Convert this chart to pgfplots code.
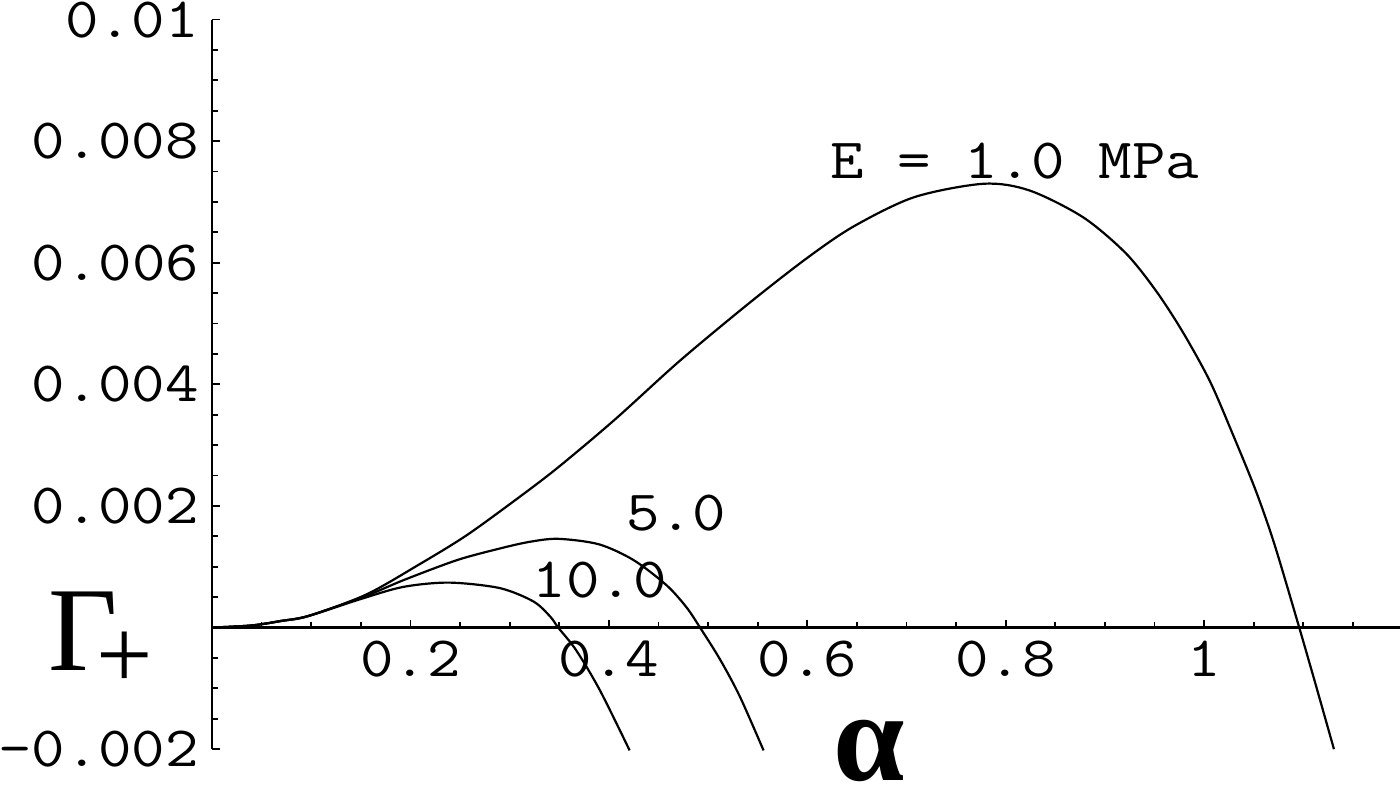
\documentclass[border=0pt]{standalone}
\usepackage{pgfplots}
\pgfplotsset{compat=1.18}
\usepackage{fontspec}
\setmainfont{Liberation Serif}
\newfontfamily\cour[FakeStretch=1.14]{Latin Modern Mono}
\newcommand\tfont{\cour\fontsize{28.5}{30}\selectfont}

\pgfplotstableread{
a g
0 0
0.04 0.000035
0.07 0.00011
0.097 0.00019
0.155 0.00054
0.209 0.00104
0.255 0.00150
0.301 0.00204
0.347 0.00261
0.406 0.00342
0.471 0.00438
0.541 0.00533
0.600 0.00608
0.647 0.00660
0.708 0.00708
0.778 0.00730
0.824 0.00719
0.878 0.00675
0.921 0.00616
0.952 0.00553
0.979 0.00485
1.006 0.00405
1.029 0.00318
1.052 0.00226
1.071 0.00137
1.096 0
1.114 -0.00102
1.131 -0.00200
}\Eone

\pgfplotstableread{
a g
0 0
0.04 0.000035
0.07 0.00011
0.097 0.00019
0.155 0.00052
0.193 0.00078
0.247 0.00111
0.290 0.00130
0.320 0.00141
0.349 0.00146
0.390 0.00137
0.425 0.00111
0.458 0.00070
0.478 0.00034
0.492 0
0.512 -0.00052
0.532 -0.00113
0.556 -0.00202
}\Efive

\pgfplotstableread{
a g
0 0
0.04 0.000035
0.07 0.00011
0.097 0.00019
0.150 0.00047
0.193 0.00067
0.239 0.00074
0.290 0.00065
0.324 0.00043
0.341 0.00018
0.349 0
0.367 -0.00037
0.391 -0.00103
0.421 -0.00202
}\Eten

\begin{document}
\begin{tikzpicture}
\begin{axis}[
  at={(0pt,0pt)}, anchor=south west,
  scale only axis, width=595.2pt, height=364.8pt,
  xmin=0, xmax=1.2, ymin=-0.002, ymax=0.01,
  axis lines=middle,
  axis line style={-, line width=1.3pt},
  clip=false,
  scaled y ticks=false, scaled x ticks=false,
  xtick={0,0.2,0.4,0.6,0.8,1,1.2},
  xticklabels={,0.2,0.4,0.6,0.8,1,},
  ytick={-0.002,0,0.002,0.004,0.006,0.008,0.01},
  yticklabels={-0.002,,0.002,0.004,0.006,0.008,0.01},
  minor x tick num=3, minor y tick num=3,
  tick align=inside,
  major tick length=4pt, minor tick length=3pt,
  every tick/.style={black, line width=0.9pt},
  ticklabel style={font=\tfont},
  xticklabel style={anchor=north, yshift=-3pt},
  yticklabel style={anchor=east, xshift=-3pt},
  /pgf/number format/assume math mode=true,
]
\addplot[black, line width=1.1pt, smooth] table[x=a,y=g] {\Eone};
\addplot[black, line width=1.1pt, smooth] table[x=a,y=g] {\Efive};
\addplot[black, line width=1.1pt, smooth] table[x=a,y=g] {\Eten};
\node[font=\tfont, anchor=center, inner sep=0pt] at (axis cs:0.8095,0.00767) {E = 1.0 MPa};
\node[font=\tfont, anchor=center, inner sep=0pt] at (axis cs:0.468,0.00188) {5.0};
\node[font=\tfont, anchor=center, inner sep=0pt] at (axis cs:0.391,0.00078) {10.0};
\node[anchor=base west, inner sep=0pt] at (axis cs:-0.165,-0.0007)
  {\fontsize{60}{60}\selectfont Γ\kern-11pt\raisebox{-9pt}{\fontsize{50}{50}\selectfont +}};
\node[anchor=base west, inner sep=0pt] at (axis cs:0.626,-0.00252)
  {\fontsize{64}{64}\selectfont\bfseries α};
\end{axis}
\pgfresetboundingbox
\path[use as bounding box] (-106pt,-17.9pt) rectangle (594pt,374.6pt);
\end{tikzpicture}
\end{document}
